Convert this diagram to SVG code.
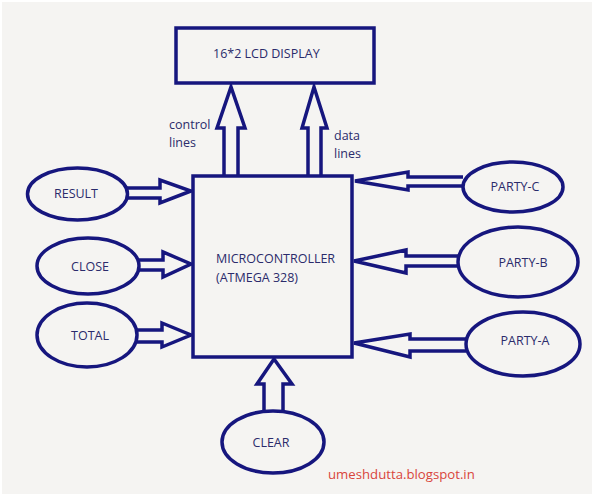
<svg xmlns="http://www.w3.org/2000/svg" width="594" height="497" viewBox="0 0 594 497">
<style>
.ln{fill:none;stroke:#16167e;stroke-width:3.5;stroke-linejoin:miter}
.nd{fill:#f5f4f2;stroke:#16167e;stroke-width:3.5}
.tx{font-family:"Open Sans","Noto Sans",sans-serif;font-size:12.5px;fill:#2b2b6b}
.wm{font-family:"Open Sans","Noto Sans",sans-serif;font-size:13.2px;fill:#d9453b}
</style>
<rect x="0" y="0" width="594" height="497" fill="#ffffff"/>
<rect x="2" y="2" width="590" height="492" fill="#f5f4f2"/>
<g id="connectors">
<polyline class="ln" points="224,175 224,128 217,128 231,87 245,128 238,128 238,175"/>
<polyline class="ln" points="308,175 308,128 302,128 314,87 327,128 321,128 321,175"/>
<polyline class="ln" points="127,188 160,188 160,180 191,191 160,203 160,198 127,198"/>
<polyline class="ln" points="139,260 163,260 163,252 191,264 163,277 163,270 139,270"/>
<polyline class="ln" points="137,330 162,330 162,323 191,335 162,347 162,342 137,342"/>
<polyline class="ln" points="463,177 408,177 408,172 355,181 408,190 408,186 463,186"/>
<polyline class="ln" points="458,256 406,256 406,250 354,261 406,273 406,266 458,266"/>
<polyline class="ln" points="466,339 410,339 410,334 354,343 410,357 410,351 466,351"/>
<polyline class="ln" points="264,412 264,384 257,384 274,359 292,384 283,384 283,412"/>
</g>
<g id="lcd">
<rect class="nd" x="176" y="28" width="198" height="55"/>
<text class="tx" x="213" y="58">16*2 LCD DISPLAY</text>
</g>
<g id="labels">
<text class="tx" x="169" y="129">control</text>
<text class="tx" x="169" y="147">lines</text>
<text class="tx" x="334" y="140">data</text>
<text class="tx" x="334" y="158">lines</text>
</g>
<g id="micro">
<rect class="nd" x="193" y="176" width="159" height="181"/>
<text class="tx" x="216" y="263">MICROCONTROLLER</text>
<text class="tx" x="216" y="282">(ATMEGA 328)</text>
</g>
<g id="result">
<ellipse class="nd" cx="77.5" cy="194" rx="50" ry="26"/>
<text class="tx" x="76" y="198" text-anchor="middle">RESULT</text>
</g>
<g id="close">
<ellipse class="nd" cx="88" cy="266" rx="51" ry="28"/>
<text class="tx" x="90" y="271" text-anchor="middle">CLOSE</text>
</g>
<g id="total">
<ellipse class="nd" cx="87" cy="335" rx="50" ry="32"/>
<text class="tx" x="90" y="340" text-anchor="middle">TOTAL</text>
</g>
<g id="party-c">
<ellipse class="nd" cx="513" cy="187" rx="50" ry="25"/>
<text class="tx" x="515" y="191" text-anchor="middle">PARTY-C</text>
</g>
<g id="party-b">
<ellipse class="nd" cx="518" cy="262" rx="60" ry="35"/>
<text class="tx" x="523" y="267" text-anchor="middle">PARTY-B</text>
</g>
<g id="party-a">
<ellipse class="nd" cx="523" cy="344" rx="57" ry="32"/>
<text class="tx" x="525" y="345" text-anchor="middle">PARTY-A</text>
</g>
<g id="clear">
<ellipse class="nd" cx="273" cy="442" rx="51" ry="31"/>
<text class="tx" x="271" y="447" text-anchor="middle">CLEAR</text>
</g>
<text class="wm" x="328" y="479">umeshdutta.blogspot.in</text>
</svg>
